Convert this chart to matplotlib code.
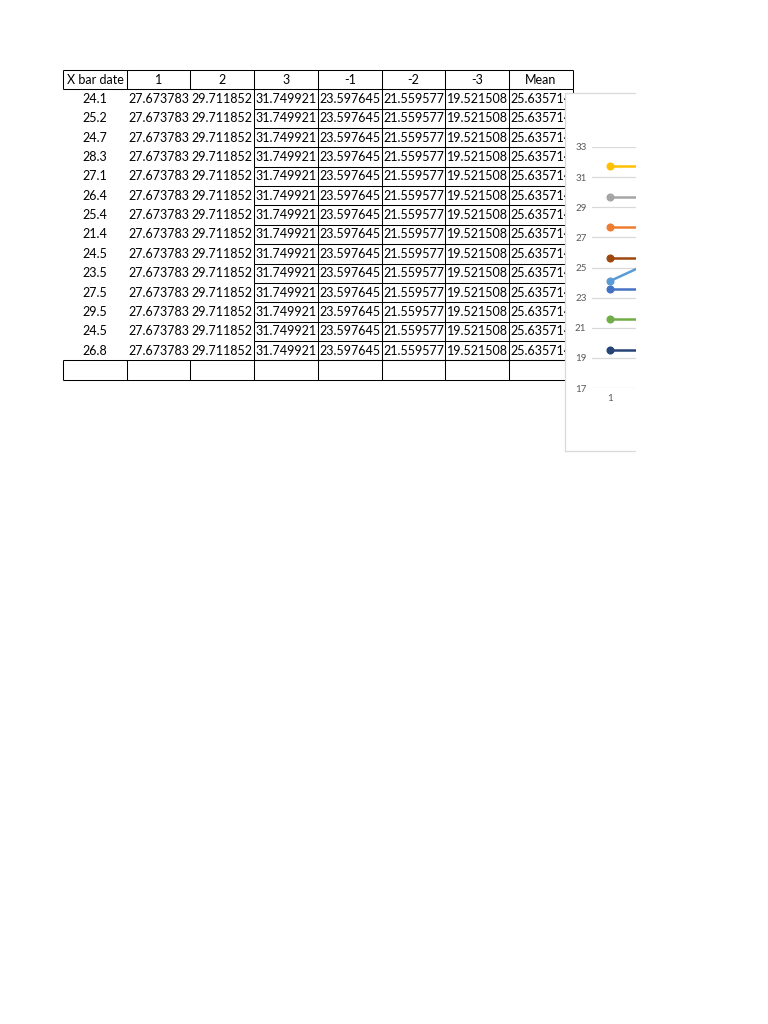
import matplotlib
matplotlib.use("Agg")
import matplotlib.pyplot as plt
from matplotlib.patches import Rectangle

# ---------------- data ----------------
headers = ["X bar date", "1", "2", "3", "-1", "-2", "-3", "Mean"]
xbar = [24.1, 25.2, 24.7, 28.3, 27.1, 26.4, 25.4, 21.4, 24.5, 23.5, 27.5, 29.5, 24.5, 26.8]
n = len(xbar)
plus1 = [27.673783] * n
plus2 = [29.711852] * n
plus3 = [31.749921] * n
minus1 = [23.597645] * n
minus2 = [21.559577] * n
minus3 = [19.521508] * n
mean = [25.635714] * n
yticks = [17, 19, 21, 23, 25, 27, 29, 31, 33]

plt.rcParams['font.family'] = ['Lato', 'DejaVu Sans']

W, H = 768, 1024
fig = plt.figure(figsize=(W / 100, H / 100), dpi=100)
ax0 = fig.add_axes([0, 0, 1, 1])
ax0.set_xlim(0, W)
ax0.set_ylim(H, 0)
ax0.axis('off')

# ---------------- table ----------------
col_x = [63, 127, 190, 254, 318, 382, 445, 509, 573]
row_top = 70
row_h = 19.35
lw = 0.75

columns = [xbar, plus1, plus2, plus3, minus1, minus2, minus3, mean]
fs = 9.0
# header
for j, h in enumerate(headers):
    cx = (col_x[j] + col_x[j + 1]) / 2
    ax0.text(cx, row_top + row_h / 2, h, ha='center', va='center', fontsize=fs, color='black')
# data rows
for i in range(n):
    cy = row_top + row_h * (i + 1) + row_h / 2
    for j, col in enumerate(columns):
        cx = (col_x[j] + col_x[j + 1]) / 2
        v = col[i]
        s = f"{v:.1f}" if j == 0 else f"{v:.6f}"
        ax0.text(cx, cy, s, ha='center', va='center', fontsize=fs, color='black')

def hline(y, x0, x1):
    ax0.plot([x0, x1], [y, y], color='black', lw=lw, solid_capstyle='butt')

def vline(x, y0, y1):
    ax0.plot([x, x], [y0, y1], color='black', lw=lw, solid_capstyle='butt')

# header borders
hline(row_top, col_x[0], col_x[-1])
hline(row_top + row_h, col_x[0], col_x[-1])
for x in col_x:
    vline(x, row_top, row_top + row_h)
# data rows bordered from column "3" onward
for i in range(1, n + 1):
    y0 = row_top + row_h * i
    hline(y0 + row_h, col_x[3], col_x[-1])
    for x in col_x[3:]:
        vline(x, y0, y0 + row_h)
# empty bottom row
yb = row_top + row_h * (n + 1)
hline(yb, col_x[0], col_x[-1])
hline(yb + row_h, col_x[0], col_x[-1])
for x in col_x:
    vline(x, yb, yb + row_h)

# ---------------- chart panel ----------------
px0, py0, px1, py1 = 564.5, 93, 636, 451
ax0.add_patch(Rectangle((px0, py0), px1 - px0 + 10, py1 - py0, facecolor='white',
                        edgecolor='none', zorder=20))
gc = '#D9D9D9'
ax0.plot([px0, px0], [py0, py1], color=gc, lw=0.9, zorder=21)
ax0.plot([px0, px1], [py0, py0], color=gc, lw=0.9, zorder=21)
ax0.plot([px0, px1], [py1, py1], color=gc, lw=0.9, zorder=21)
ax0.add_patch(Rectangle((px1, 0), W - px1, H, facecolor='white', edgecolor='none', zorder=22))

# plot area
left_px, right_px, top_px, bot_px = 592, 636, 147, 388
ax = fig.add_axes([left_px / W, 1 - bot_px / H, (right_px - left_px) / W, (bot_px - top_px) / H])
ax.set_zorder(30)
ax.patch.set_alpha(0)
spacing = 36.0
xs = list(range(1, n + 1))
ax.set_xlim(0.5, 0.5 + (right_px - left_px) / spacing)
ax.set_ylim(17, 33)
ax.set_yticks(yticks)
ax.set_xticks([1])
ax.set_xticklabels(['1'])
ax.grid(axis='y', color=gc, lw=0.9)
ax.set_axisbelow(True)
for s in ax.spines.values():
    s.set_visible(False)
ax.tick_params(axis='both', length=0, labelsize=7, labelcolor='#595959')
ax.tick_params(axis='y', pad=4)
ax.tick_params(axis='x', pad=4)

series = [
    (xbar, '#5B9BD5'),
    (plus1, '#ED7D31'),
    (plus2, '#A5A5A5'),
    (plus3, '#FFC000'),
    (minus1, '#4472C4'),
    (minus2, '#70AD47'),
    (minus3, '#264478'),
    (mean, '#9E480E'),
]
for vals, c in series:
    ax.plot(xs, vals, color=c, lw=1.8, marker='o', markersize=4.8, markerfacecolor=c,
            markeredgecolor=c)

fig.savefig('out.png', dpi=100, facecolor='white')
